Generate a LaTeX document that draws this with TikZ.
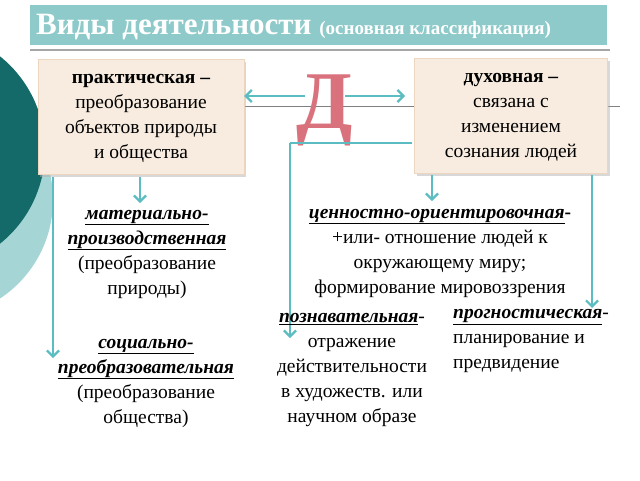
\documentclass[tikz,border=0pt]{standalone}
\usepackage{fontspec}
\setmainfont{Liberation Serif}
\usetikzlibrary{arrows.meta,shadows}
\definecolor{teal1}{HTML}{5BBDC2}
\definecolor{dteal}{HTML}{136A68}
\definecolor{lteal}{HTML}{8FCACA}
\definecolor{boxc}{HTML}{F7ECDF}
\definecolor{dred}{HTML}{D9727C}
\tikzset{
 box/.style={draw=boxc!80!brown, fill=boxc, drop shadow={shadow xshift=2pt,shadow yshift=-2pt,fill=gray!60}},
 arr/.style={teal1, line width=2.2pt, -{Straight Barb[length=6pt,width=12pt]}},
 txt/.style={align=center, font=\fontsize{19.5}{25}\selectfont, inner sep=0pt},
}
\newcommand{\ul}[1]{\underline{\textbf{\textit{#1}}}}
\begin{document}
\begin{tikzpicture}[x=1pt,y=-1pt]
\useasboundingbox (0,0) rectangle (640,480);
\fill[white] (0,0) rectangle (640,480);
\begin{scope}
\clip (0,0) rectangle (640,480);
\fill[lteal!80] (-65,200) circle (118);
\fill[dteal] (-75,150) circle (120);
\end{scope}
\fill[lteal] (30,5) rectangle (607,45);
\draw[gray!70, line width=1.5pt] (30,50) -- (610,50);
\node[anchor=west, text=white, inner sep=0pt] (title) at (36,27) {\fontsize{31}{34}\selectfont\bfseries Виды деятельности \fontsize{19}{20}\selectfont(основная классификация)};
\draw[gray, line width=1pt] (245,106) -- (620,106);
\node[box, minimum width=206pt, minimum height=115pt] (L) at (141,117) {};
\node[box, minimum width=193pt, minimum height=115pt] (R) at (511,116) {};
\node[txt] (Lt) at (141,118) {\textbf{практическая –}\\ преобразование\\ объектов природы\\ и общества};
\node[txt] (Rt) at (511,117) {\textbf{духовная –}\\ связана с\\ изменением\\ сознания людей};
\node[text=dred, font=\fontsize{82}{82}\selectfont\bfseries, inner sep=0pt, anchor=south] (D) at (325,146) {Д};
\coordinate (la) at (305,96); \coordinate (ra) at (345,96);
\draw[arr] (la) -- (L.east |- la);
\draw[arr] (ra) -- (405,96);
\coordinate (b1) at (412,143); \coordinate (b2) at (290,143);
\draw[teal1, line width=2.2pt] (b1) -- (b2);
\draw[arr] (b2) -- (290,338);
\draw[arr] (140,177) -- (140,203);
\draw[arr] (53,177) -- (53,358);
\draw[arr] (432,175) -- (432,201);
\draw[arr] (592,175) -- (592,308);
\node[txt] (m) at (147,254) {\ul{материально-}\\\ul{производственная}\\(преобразование\\природы)};
\node[txt] (s) at (146,383) {\ul{социально-}\\\ul{преобразовательная}\\(преобразование\\общества)};
\node[txt] (c) at (440,253) {\ul{ценностно-ориентировочная}\textbf{-}\\+или- отношение людей к\\окружающему миру;\\формирование мировоззрения};
\node[txt] (p) at (352,370) {\ul{познавательная}-\\отражение\\действительности\\в художеств. или\\научном образе};
\node[txt, align=left, anchor=north west] (g) at (453,309) {\ul{прогностическая}-\\планирование и\\предвидение};
\end{tikzpicture}
\end{document}
